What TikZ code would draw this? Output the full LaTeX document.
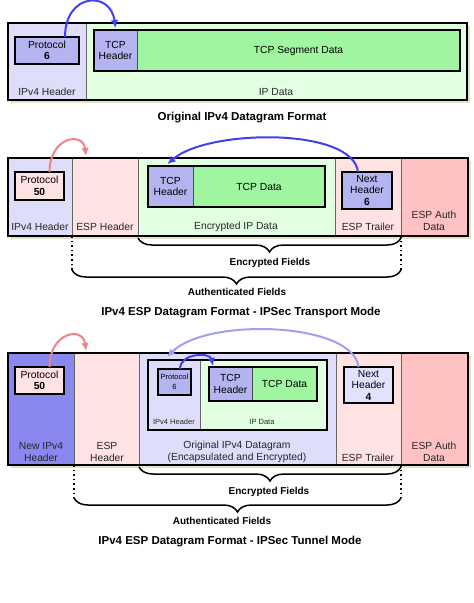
\documentclass[tikz,border=0pt]{standalone}
\usepackage{fontspec}
\setmainfont{Liberation Sans}
\usetikzlibrary{arrows.meta, decorations.pathreplacing}
\tikzset{>={Latex[length=8pt,width=7.5pt]}}

\definecolor{hdrlav}{RGB}{222,222,250}
\definecolor{boxlav}{RGB}{180,180,240}
\definecolor{lightlav}{RGB}{226,226,255}
\definecolor{newhdr}{RGB}{136,136,240}
\definecolor{ipgreen}{RGB}{226,255,226}
\definecolor{tcpgreen}{RGB}{160,246,160}
\definecolor{esppink}{RGB}{255,226,226}
\definecolor{authpink}{RGB}{255,194,194}
\definecolor{shadowc}{RGB}{226,226,204}
\definecolor{arrblue}{RGB}{64,64,240}
\definecolor{arrpink}{RGB}{240,130,130}
\definecolor{arrlav}{RGB}{160,160,240}

\begin{document}
\begin{tikzpicture}[x=1pt, y=-1pt,
	cell/.style={inner sep=0pt, outer sep=0pt, anchor=north west},
	fieldbox/.style={draw=black, line width=1.6pt, inner sep=0pt, outer sep=0pt, align=center, font=\fontsize{10.3}{11.5}\selectfont},
	thinbox/.style={draw=black!70, line width=.6pt, inner sep=0pt, outer sep=0pt, align=center, font=\fontsize{10.3}{11.5}\selectfont},
	frame/.style={draw=black, line width=2pt},
	divider/.style={draw=black!60, line width=.7pt},
	shadow/.style={fill=shadowc, xshift=3pt, yshift=-3pt},
	lbl/.style={inner sep=0pt, align=center, text=black!85, font=\fontsize{10.3}{11.5}\selectfont},
	smalllbl/.style={inner sep=0pt, align=center, text=black!85, font=\fontsize{7.5}{9}\selectfont},
	fld/.style={inner sep=0pt, font=\fontsize{10}{12}\selectfont\bfseries},
	title/.style={inner sep=0pt, font=\fontsize{11.5}{13}\selectfont\bfseries},
	brc/.style={decorate, decoration={brace, mirror, amplitude=14pt}, line width=1.5pt},
	dotline/.style={line width=1.6pt, dash pattern=on 1.6pt off 3pt},
	hop/.style={->, line width=2pt}]

	\useasboundingbox (0,0) rectangle (474,603);

	% original IPv4 datagram
	\fill[shadow] (8,23) rectangle (467,100);
	\node[cell, fill=hdrlav, minimum width=78pt, minimum height=77pt] (hdr1) at (8,23) {};
	\node[cell, fill=ipgreen, minimum width=381pt, minimum height=77pt] (ipd1) at (86,23) {};
	\draw[divider] (hdr1.north east) -- (hdr1.south east);
	\draw[frame] (hdr1.north west) rectangle (ipd1.south east);

	\node[fieldbox, fill=boxlav, minimum width=64pt, minimum height=27pt] (prot1) at (47,50.5) {Protocol\\\textbf{6}};
	\node[thinbox, fill=boxlav, minimum width=43pt, minimum height=41pt] (tcph1) at (115.5,50.5) {TCP\\Header};
	\node[thinbox, fill=tcpgreen, minimum width=323pt, minimum height=41pt] (tcpd1) at (298.5,50.5) {TCP Segment Data};
	\draw[frame] (tcph1.north west) rectangle (tcpd1.south east);

	\node[lbl] (hdrl1) at (47,92) {IPv4 Header};
	\node[lbl] (ipdl1) at (276,92) {IP Data};

	\draw[hop, arrblue] ([xshift=18pt]prot1.north) .. controls +(0,-44) and +(-5,-38) .. ([yshift=2pt]tcph1.north);

	\node[title] (title1) at (242,118) {Original IPv4 Datagram Format};

	% transport mode
	\fill[shadow] (8,158) rectangle (468,236);
	\node[cell, fill=hdrlav, minimum width=64pt, minimum height=78pt] (hdr2) at (8,158) {};
	\node[cell, fill=esppink, minimum width=66pt, minimum height=78pt] (esph2) at (72,158) {};
	\node[cell, fill=ipgreen, minimum width=197pt, minimum height=78pt] (encd2) at (138,158) {};
	\node[cell, fill=esppink, minimum width=66pt, minimum height=78pt] (trl2) at (335,158) {};
	\node[cell, fill=authpink, minimum width=67pt, minimum height=78pt] (auth2) at (401,158) {};
	\foreach \c in {hdr2, esph2, encd2, trl2}
		\draw[divider] (\c.north east) -- (\c.south east);
	\draw[frame] (hdr2.north west) rectangle (auth2.south east);

	\node[fieldbox, fill=esppink, minimum width=49pt, minimum height=28pt] (prot2) at (39.5,186) {Protocol\\\textbf{50}};
	\node[thinbox, fill=boxlav, minimum width=45pt, minimum height=41pt] (tcph2) at (170.5,186.5) {TCP\\Header};
	\node[thinbox, fill=tcpgreen, minimum width=132pt, minimum height=41pt] (tcpd2) at (259,186.5) {TCP Data};
	\draw[frame] (tcph2.north west) rectangle (tcpd2.south east);
	\node[fieldbox, fill=boxlav, minimum width=50pt, minimum height=37pt] (nh2) at (367,190.5) {Next\\Header\\\textbf{6}};

	\node[lbl] (hdrl2) at (40,227) {IPv4 Header};
	\node[lbl] (espl2) at (105,227) {ESP Header};
	\node[lbl] (encl2) at (236,227) {Encrypted IP Data};
	\node[lbl] (trll2) at (368,227) {ESP Trailer};
	\node[lbl] (authl2) at (434,221) {ESP Auth\\Data};

	\draw[hop, arrpink] ([xshift=10pt]prot2.north) .. controls +(0,-35) and +(-3,-25) .. ([xshift=-19pt, yshift=2pt]esph2.north);
	\draw[hop, arrblue] ([xshift=-9pt]nh2.north) .. controls +(-5,-45) and +(40,-35) .. ([xshift=-3pt, yshift=2pt]tcph2.north);

	\coordinate (e2l) at (138,238);
	\coordinate (e2r) at (401,238);
	\coordinate (a2l) at (72,270);
	\coordinate (a2r) at (401,270);
	\draw[brc] (e2l) -- (e2r);
	\draw[dotline] (hdr2.south east) -- (a2l);
	\draw[dotline] (auth2.south west) -- (a2r);
	\draw[brc] (a2l) -- (a2r);
	\node[fld] (encf2) at (270,263) {Encrypted Fields};
	\node[fld] (authf2) at (237,292) {Authenticated Fields};

	\node[title] (title2) at (241,313) {IPv4 ESP Datagram Format - IPSec Transport Mode};

	% tunnel mode
	\fill[shadow] (8,353) rectangle (468,465);
	\node[cell, fill=newhdr, minimum width=66pt, minimum height=112pt] (hdr3) at (8,353) {};
	\node[cell, fill=esppink, minimum width=65pt, minimum height=112pt] (esph3) at (74,353) {};
	\node[cell, fill=hdrlav, minimum width=197pt, minimum height=112pt] (orig3) at (139,353) {};
	\node[cell, fill=esppink, minimum width=65pt, minimum height=112pt] (trl3) at (336,353) {};
	\node[cell, fill=authpink, minimum width=67pt, minimum height=112pt] (auth3) at (401,353) {};
	\foreach \c in {hdr3, esph3, orig3, trl3}
		\draw[divider] (\c.north east) -- (\c.south east);
	\draw[frame] (hdr3.north west) rectangle (auth3.south east);

	\node[fieldbox, fill=esppink, minimum width=49pt, minimum height=27pt] (prot3) at (39.5,380.5) {Protocol\\\textbf{50}};

	\node[cell, fill=hdrlav, minimum width=52pt, minimum height=70pt] (ihdr3) at (148,360) {};
	\node[cell, fill=ipgreen, minimum width=127pt, minimum height=70pt] (ipd3) at (200,360) {};
	\draw[divider] (ihdr3.north east) -- (ihdr3.south east);
	\draw[frame] (ihdr3.north west) rectangle (ipd3.south east);
	\node[fieldbox, fill=boxlav, line width=1.3pt, minimum width=33pt, minimum height=26pt, font=\fontsize{7.5}{10}\selectfont] (iprot3) at (174.5,382) {Protocol\\6};
	\node[thinbox, fill=boxlav, minimum width=43pt, minimum height=34pt] (tcph3) at (230.5,384) {TCP\\Header};
	\node[thinbox, fill=tcpgreen, minimum width=65pt, minimum height=34pt] (tcpd3) at (284.5,384) {TCP Data};
	\draw[frame] (tcph3.north west) rectangle (tcpd3.south east);
	\node[smalllbl] (ihdrl3) at (174,422) {IPv4 Header};
	\node[smalllbl] (ipdl3) at (262,422) {IP Data};

	\node[fieldbox, fill=lightlav, minimum width=49pt, minimum height=36pt] (nh3) at (368.5,385) {Next\\Header\\\textbf{4}};

	\node[lbl] (hdrl3) at (41,452) {New IPv4\\Header};
	\node[lbl] (espl3) at (107,452) {ESP\\Header};
	\node[lbl] (origl3) at (237,452) {Original IPv4 Datagram\\(Encapsulated and Encrypted)};
	\node[lbl] (trll3) at (368,458) {ESP Trailer};
	\node[lbl] (authl3) at (434,452) {ESP Auth\\Data};

	\draw[hop, arrpink] ([xshift=10pt]prot3.north) .. controls +(0,-35) and +(-3,-25) .. ([xshift=-20.5pt, yshift=2pt]esph3.north);
	\draw[hop, arrlav] ([xshift=-10pt]nh3.north) .. controls +(-5,-45) and +(40,-40) .. ([xshift=-7pt, yshift=3pt]ihdr3.north);
	\draw[hop, arrblue] ([xshift=5.5pt]iprot3.north) .. controls +(0,-16) and +(-3,-14) .. ([xshift=-17.5pt, yshift=1pt]tcph3.north);

	\coordinate (e3l) at (139,467);
	\coordinate (e3r) at (401,467);
	\coordinate (a3l) at (74,498);
	\coordinate (a3r) at (401,498);
	\draw[brc] (e3l) -- (e3r);
	\draw[dotline] (hdr3.south east) -- (a3l);
	\draw[dotline] (auth3.south west) -- (a3r);
	\draw[brc] (a3l) -- (a3r);
	\node[fld] (encf3) at (269,492) {Encrypted Fields};
	\node[fld] (authf3) at (222,521) {Authenticated Fields};

	\node[title] (title3) at (230,542) {IPv4 ESP Datagram Format - IPSec Tunnel Mode};
\end{tikzpicture}
\end{document}
